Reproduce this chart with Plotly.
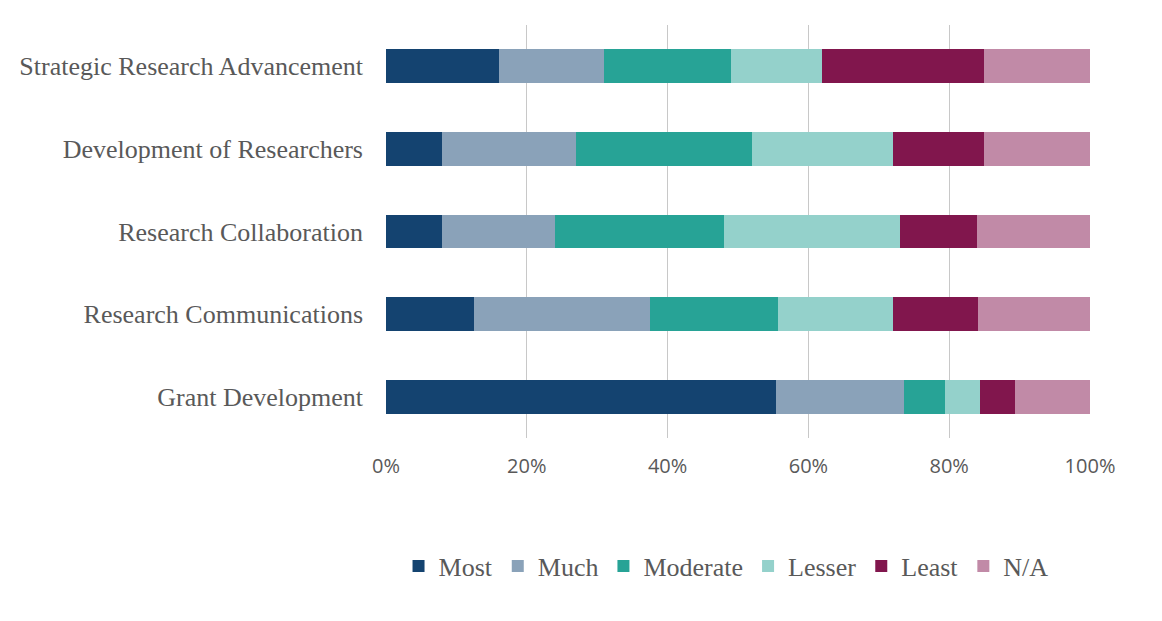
import plotly.graph_objects as go

categories = ["Strategic Research Advancement", "Development of Researchers",
              "Research Collaboration", "Research Communications", "Grant Development"]
series_names = ["Most", "Much", "Moderate", "Lesser", "Least", "N/A"]
most = [16, 8, 8, 12.5, 55.4]
much = [15, 19, 16, 25, 18.2]
moderate = [18, 25, 24, 18.2, 5.8]
lesser = [13, 20, 25, 16.3, 5.0]
least = [23, 13, 11, 12.1, 4.9]
na = [15, 15, 16, 15.9, 10.7]
values = [most, much, moderate, lesser, least, na]
colors = ["#144370", "#8aa2b9", "#27a396", "#94d1cb", "#81164d", "#c18aa7"]

fig = go.Figure()
for name, vals, col in zip(series_names, values, colors):
    fig.add_trace(go.Bar(
        y=categories, x=[v / 100 for v in vals], name=name, orientation="h",
        marker=dict(color=col, line=dict(width=0)), width=0.41,
    ))

fig.update_layout(
    barmode="stack",
    width=1162, height=621,
    margin=dict(l=386, r=72, t=25, b=183),
    plot_bgcolor="white", paper_bgcolor="white",
    xaxis=dict(range=[0, 1], tickformat=".0%", dtick=0.2, showgrid=True,
               gridcolor="#c8c8c8", gridwidth=1, zeroline=False,
               tickfont=dict(family="Open Sans", size=20, color="#595959"),
               ticks="", showline=False, fixedrange=True, ticklabelstandoff=14),
    yaxis=dict(autorange="reversed", categoryorder="array", categoryarray=categories,
               tickfont=dict(family="Liberation Serif", size=26, color="#595959"),
               ticks="", showline=False, ticklabelstandoff=22, fixedrange=True),
    legend=dict(orientation="h", x=0.483, xanchor="center", y=-0.31, yanchor="middle",
                font=dict(family="Liberation Serif", size=26, color="#595959"),
                traceorder="normal", itemwidth=30),
    bargap=0.59,
)

fig.write_html("out.html")
